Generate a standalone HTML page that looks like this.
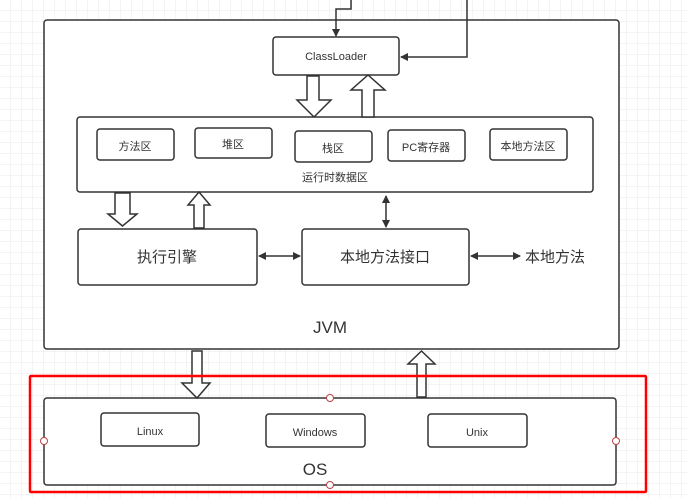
<!DOCTYPE html>
<html><head><meta charset="utf-8"><style>
html,body{margin:0;padding:0;background:#fff;}
svg{display:block;}
text{font-family:"Liberation Sans","Noto Sans CJK SC",sans-serif;fill:#333;}
</style></head><body>
<svg width="687" height="498" viewBox="0 0 687 498" xmlns="http://www.w3.org/2000/svg">
<defs>
<pattern id="g" width="11" height="11" patternUnits="userSpaceOnUse">
<path d="M11 0V11H0" fill="none" stroke="#e8e8e8" stroke-width="1"/>
</pattern>
<marker id="a" markerWidth="8" markerHeight="8" refX="7" refY="4" orient="auto-start-reverse" markerUnits="userSpaceOnUse">
<path d="M0 0L8 4L0 8z" fill="#333"/>
</marker>
</defs>
<rect width="687" height="498" fill="url(#g)"/>
<g fill="#fff" stroke="#333" stroke-width="1.5">
<rect x="44" y="20" width="575" height="329" rx="3"/>
<rect x="273" y="37" width="126" height="38" rx="3"/>
<rect x="77" y="117" width="516" height="75" rx="3"/>
<rect x="97" y="129" width="77" height="31" rx="3"/>
<rect x="195" y="128" width="77" height="30" rx="3"/>
<rect x="295" y="131" width="77" height="31" rx="3"/>
<rect x="388" y="130" width="77" height="31" rx="3"/>
<rect x="490" y="129" width="77" height="31" rx="3"/>
<rect x="78" y="229" width="179" height="56" rx="3"/>
<rect x="302" y="229" width="167" height="56" rx="3"/>
<rect x="44" y="398" width="572" height="87" rx="3"/>
<rect x="101" y="413" width="98" height="33" rx="3"/>
<rect x="266" y="414" width="99" height="33" rx="3"/>
<rect x="428" y="414" width="99" height="33" rx="3"/>
<!-- hollow arrows -->
<path d="M307 76H319V100H331L314 117L297 100H307Z"/>
<path d="M362 117V90H351L368 75L385 90H374V117Z"/>
<path d="M115 193H130V214H137L122.5 226L108 214H115Z"/>
<path d="M194 228V205H188L199 192L210 205H204V228Z"/>
<path d="M192 351H202V383H210L197 398L182 383H192Z"/>
<path d="M417 397V364H408L421.5 351L435 364H426V397Z"/>
</g>
<rect x="30" y="376" width="616" height="116" fill="none" stroke="#f00" stroke-width="2.5" rx="1"/>
<g fill="#fff" stroke="#b44" stroke-width="1">
<circle cx="330" cy="398" r="3.5"/><circle cx="44" cy="441" r="3.5"/><circle cx="616" cy="441" r="3.5"/><circle cx="330" cy="485" r="3.5"/>
</g>
<g fill="none" stroke="#333" stroke-width="1.5">
<path d="M351 0V9H336V36" marker-end="url(#a)"/>
<path d="M467 0V57H401" marker-end="url(#a)"/>
<path d="M386 196V227" marker-start="url(#a)" marker-end="url(#a)"/>
<path d="M259 256H300" marker-start="url(#a)" marker-end="url(#a)"/>
<path d="M471 256H520" marker-start="url(#a)" marker-end="url(#a)"/>
</g>
<g font-size="11" text-anchor="middle">
<text x="336" y="60">ClassLoader</text>
<text x="135" y="150">方法区</text>
<text x="233" y="148">堆区</text>
<text x="333" y="152">栈区</text>
<text x="426" y="151">PC寄存器</text>
<text x="528" y="150">本地方法区</text>
<text x="335" y="181">运行时数据区</text>
<text x="150" y="435">Linux</text>
<text x="315" y="436">Windows</text>
<text x="477" y="436">Unix</text>
</g>
<g font-size="15" text-anchor="middle">
<text x="167" y="262">执行引擎</text>
<text x="385" y="262">本地方法接口</text>
<text x="555" y="262">本地方法</text>
<text x="330" y="333" font-size="17">JVM</text>
<text x="315" y="475" font-size="17">OS</text>
</g>
</svg>
</body></html>
